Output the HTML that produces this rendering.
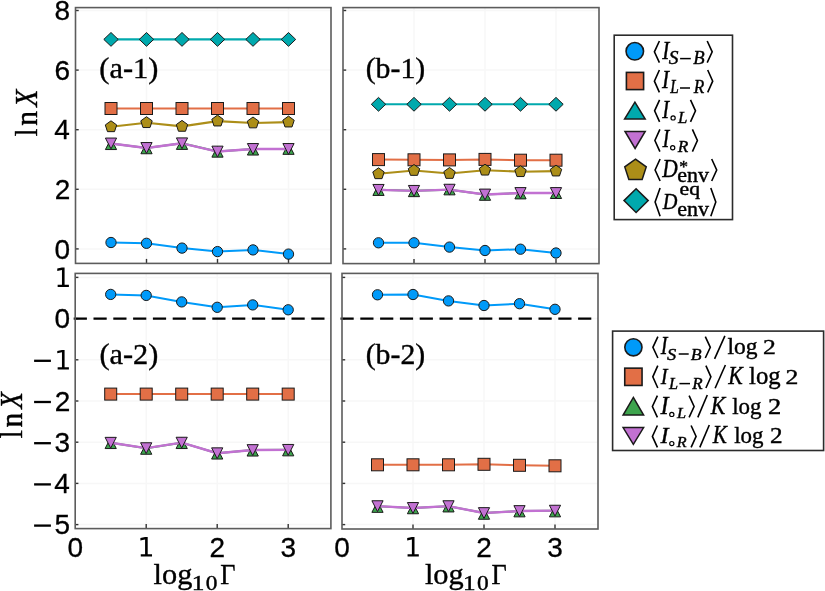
<!DOCTYPE html>
<html><head><meta charset="utf-8"><style>
html,body{margin:0;padding:0;background:#fff;width:825px;height:591px;overflow:hidden}
svg{display:block;will-change:transform}
text{font-kerning:none}
.s text{stroke:#000;stroke-width:0.4px}
.t text,.t path{stroke:#000;stroke-width:0.3px}
</style></head><body>
<svg width="825" height="591" viewBox="0 0 825 591">
<defs><clipPath id="clip_a1"><rect x="75.5" y="7.6" width="255.50" height="255.80"/></clipPath><clipPath id="clip_b1"><rect x="343.0" y="7.6" width="256.00" height="256.00"/></clipPath><clipPath id="clip_a2"><rect x="75.2" y="273.4" width="255.70" height="255.20"/></clipPath><clipPath id="clip_b2"><rect x="342.0" y="273.4" width="256.00" height="255.60"/></clipPath></defs>
<rect width="825" height="591" fill="#fff"/>
<line x1="146.50" y1="7.6" x2="146.50" y2="263.4" stroke="#f7f7f7" stroke-width="1.5"/>
<line x1="217.50" y1="7.6" x2="217.50" y2="263.4" stroke="#f7f7f7" stroke-width="1.5"/>
<line x1="288.50" y1="7.6" x2="288.50" y2="263.4" stroke="#f7f7f7" stroke-width="1.5"/>
<line x1="75.5" y1="248.90" x2="331.0" y2="248.90" stroke="#f7f7f7" stroke-width="1.5"/>
<line x1="75.5" y1="189.30" x2="331.0" y2="189.30" stroke="#f7f7f7" stroke-width="1.5"/>
<line x1="75.5" y1="129.70" x2="331.0" y2="129.70" stroke="#f7f7f7" stroke-width="1.5"/>
<line x1="75.5" y1="70.10" x2="331.0" y2="70.10" stroke="#f7f7f7" stroke-width="1.5"/>
<line x1="75.5" y1="10.50" x2="331.0" y2="10.50" stroke="#f7f7f7" stroke-width="1.5"/>
<line x1="146.50" y1="263.4" x2="146.50" y2="258.9" stroke="#333" stroke-width="1.4"/>
<line x1="217.50" y1="263.4" x2="217.50" y2="258.9" stroke="#333" stroke-width="1.4"/>
<line x1="288.50" y1="263.4" x2="288.50" y2="258.9" stroke="#333" stroke-width="1.4"/>
<line x1="75.5" y1="248.90" x2="78.7" y2="248.90" stroke="#333" stroke-width="1.4"/>
<line x1="75.5" y1="189.30" x2="78.7" y2="189.30" stroke="#333" stroke-width="1.4"/>
<line x1="75.5" y1="129.70" x2="78.7" y2="129.70" stroke="#333" stroke-width="1.4"/>
<line x1="75.5" y1="70.10" x2="78.7" y2="70.10" stroke="#333" stroke-width="1.4"/>
<line x1="75.5" y1="10.50" x2="78.7" y2="10.50" stroke="#333" stroke-width="1.4"/>
<line x1="414.00" y1="7.6" x2="414.00" y2="263.6" stroke="#f7f7f7" stroke-width="1.5"/>
<line x1="485.00" y1="7.6" x2="485.00" y2="263.6" stroke="#f7f7f7" stroke-width="1.5"/>
<line x1="556.00" y1="7.6" x2="556.00" y2="263.6" stroke="#f7f7f7" stroke-width="1.5"/>
<line x1="343.0" y1="248.90" x2="599.0" y2="248.90" stroke="#f7f7f7" stroke-width="1.5"/>
<line x1="343.0" y1="189.30" x2="599.0" y2="189.30" stroke="#f7f7f7" stroke-width="1.5"/>
<line x1="343.0" y1="129.70" x2="599.0" y2="129.70" stroke="#f7f7f7" stroke-width="1.5"/>
<line x1="343.0" y1="70.10" x2="599.0" y2="70.10" stroke="#f7f7f7" stroke-width="1.5"/>
<line x1="343.0" y1="10.50" x2="599.0" y2="10.50" stroke="#f7f7f7" stroke-width="1.5"/>
<line x1="414.00" y1="263.6" x2="414.00" y2="259.1" stroke="#333" stroke-width="1.4"/>
<line x1="485.00" y1="263.6" x2="485.00" y2="259.1" stroke="#333" stroke-width="1.4"/>
<line x1="556.00" y1="263.6" x2="556.00" y2="259.1" stroke="#333" stroke-width="1.4"/>
<line x1="343.0" y1="248.90" x2="346.2" y2="248.90" stroke="#333" stroke-width="1.4"/>
<line x1="343.0" y1="189.30" x2="346.2" y2="189.30" stroke="#333" stroke-width="1.4"/>
<line x1="343.0" y1="129.70" x2="346.2" y2="129.70" stroke="#333" stroke-width="1.4"/>
<line x1="343.0" y1="70.10" x2="346.2" y2="70.10" stroke="#333" stroke-width="1.4"/>
<line x1="343.0" y1="10.50" x2="346.2" y2="10.50" stroke="#333" stroke-width="1.4"/>
<line x1="146.20" y1="273.4" x2="146.20" y2="528.6" stroke="#f7f7f7" stroke-width="1.5"/>
<line x1="217.20" y1="273.4" x2="217.20" y2="528.6" stroke="#f7f7f7" stroke-width="1.5"/>
<line x1="288.20" y1="273.4" x2="288.20" y2="528.6" stroke="#f7f7f7" stroke-width="1.5"/>
<line x1="75.2" y1="277.40" x2="330.9" y2="277.40" stroke="#f7f7f7" stroke-width="1.5"/>
<line x1="75.2" y1="318.60" x2="330.9" y2="318.60" stroke="#f7f7f7" stroke-width="1.5"/>
<line x1="75.2" y1="359.80" x2="330.9" y2="359.80" stroke="#f7f7f7" stroke-width="1.5"/>
<line x1="75.2" y1="401.00" x2="330.9" y2="401.00" stroke="#f7f7f7" stroke-width="1.5"/>
<line x1="75.2" y1="442.20" x2="330.9" y2="442.20" stroke="#f7f7f7" stroke-width="1.5"/>
<line x1="75.2" y1="483.40" x2="330.9" y2="483.40" stroke="#f7f7f7" stroke-width="1.5"/>
<line x1="75.2" y1="524.60" x2="330.9" y2="524.60" stroke="#f7f7f7" stroke-width="1.5"/>
<line x1="146.20" y1="528.6" x2="146.20" y2="524.1" stroke="#333" stroke-width="1.4"/>
<line x1="217.20" y1="528.6" x2="217.20" y2="524.1" stroke="#333" stroke-width="1.4"/>
<line x1="288.20" y1="528.6" x2="288.20" y2="524.1" stroke="#333" stroke-width="1.4"/>
<line x1="75.2" y1="277.40" x2="78.4" y2="277.40" stroke="#333" stroke-width="1.4"/>
<line x1="75.2" y1="318.60" x2="78.4" y2="318.60" stroke="#333" stroke-width="1.4"/>
<line x1="75.2" y1="359.80" x2="78.4" y2="359.80" stroke="#333" stroke-width="1.4"/>
<line x1="75.2" y1="401.00" x2="78.4" y2="401.00" stroke="#333" stroke-width="1.4"/>
<line x1="75.2" y1="442.20" x2="78.4" y2="442.20" stroke="#333" stroke-width="1.4"/>
<line x1="75.2" y1="483.40" x2="78.4" y2="483.40" stroke="#333" stroke-width="1.4"/>
<line x1="75.2" y1="524.60" x2="78.4" y2="524.60" stroke="#333" stroke-width="1.4"/>
<line x1="413.00" y1="273.4" x2="413.00" y2="529.0" stroke="#f7f7f7" stroke-width="1.5"/>
<line x1="484.00" y1="273.4" x2="484.00" y2="529.0" stroke="#f7f7f7" stroke-width="1.5"/>
<line x1="555.00" y1="273.4" x2="555.00" y2="529.0" stroke="#f7f7f7" stroke-width="1.5"/>
<line x1="342.0" y1="277.40" x2="598.0" y2="277.40" stroke="#f7f7f7" stroke-width="1.5"/>
<line x1="342.0" y1="318.60" x2="598.0" y2="318.60" stroke="#f7f7f7" stroke-width="1.5"/>
<line x1="342.0" y1="359.80" x2="598.0" y2="359.80" stroke="#f7f7f7" stroke-width="1.5"/>
<line x1="342.0" y1="401.00" x2="598.0" y2="401.00" stroke="#f7f7f7" stroke-width="1.5"/>
<line x1="342.0" y1="442.20" x2="598.0" y2="442.20" stroke="#f7f7f7" stroke-width="1.5"/>
<line x1="342.0" y1="483.40" x2="598.0" y2="483.40" stroke="#f7f7f7" stroke-width="1.5"/>
<line x1="342.0" y1="524.60" x2="598.0" y2="524.60" stroke="#f7f7f7" stroke-width="1.5"/>
<line x1="413.00" y1="529.0" x2="413.00" y2="524.5" stroke="#333" stroke-width="1.4"/>
<line x1="484.00" y1="529.0" x2="484.00" y2="524.5" stroke="#333" stroke-width="1.4"/>
<line x1="555.00" y1="529.0" x2="555.00" y2="524.5" stroke="#333" stroke-width="1.4"/>
<line x1="342.0" y1="277.40" x2="345.2" y2="277.40" stroke="#333" stroke-width="1.4"/>
<line x1="342.0" y1="318.60" x2="345.2" y2="318.60" stroke="#333" stroke-width="1.4"/>
<line x1="342.0" y1="359.80" x2="345.2" y2="359.80" stroke="#333" stroke-width="1.4"/>
<line x1="342.0" y1="401.00" x2="345.2" y2="401.00" stroke="#333" stroke-width="1.4"/>
<line x1="342.0" y1="442.20" x2="345.2" y2="442.20" stroke="#333" stroke-width="1.4"/>
<line x1="342.0" y1="483.40" x2="345.2" y2="483.40" stroke="#333" stroke-width="1.4"/>
<line x1="342.0" y1="524.60" x2="345.2" y2="524.60" stroke="#333" stroke-width="1.4"/>
<line x1="73.7" y1="318.7" x2="330.9" y2="318.7" stroke="#000" stroke-width="2.2" stroke-dasharray="13.2 6.6"/>
<line x1="340.5" y1="318.7" x2="598.0" y2="318.7" stroke="#000" stroke-width="2.2" stroke-dasharray="13.2 6.6"/>
<g clip-path="url(#clip_a1)">
<polyline points="111.00,242.50 146.50,243.30 182.00,248.10 217.50,251.60 253.00,249.90 288.50,254.10" fill="none" stroke="#009AF9" stroke-width="2.0" stroke-linejoin="round"/>
<circle cx="111.00" cy="242.50" r="5.15" fill="#009AF9" stroke="#1a1a1a" stroke-width="1.0"/>
<circle cx="146.50" cy="243.30" r="5.15" fill="#009AF9" stroke="#1a1a1a" stroke-width="1.0"/>
<circle cx="182.00" cy="248.10" r="5.15" fill="#009AF9" stroke="#1a1a1a" stroke-width="1.0"/>
<circle cx="217.50" cy="251.60" r="5.15" fill="#009AF9" stroke="#1a1a1a" stroke-width="1.0"/>
<circle cx="253.00" cy="249.90" r="5.15" fill="#009AF9" stroke="#1a1a1a" stroke-width="1.0"/>
<circle cx="288.50" cy="254.10" r="5.15" fill="#009AF9" stroke="#1a1a1a" stroke-width="1.0"/>
<polyline points="111.00,108.50 146.50,108.50 182.00,108.50 217.50,108.50 253.00,108.50 288.50,108.50" fill="none" stroke="#E26F46" stroke-width="2.0" stroke-linejoin="round"/>
<rect x="105.00" y="102.50" width="12.00" height="12.00" fill="#E26F46" stroke="#1a1a1a" stroke-width="1.0"/>
<rect x="140.50" y="102.50" width="12.00" height="12.00" fill="#E26F46" stroke="#1a1a1a" stroke-width="1.0"/>
<rect x="176.00" y="102.50" width="12.00" height="12.00" fill="#E26F46" stroke="#1a1a1a" stroke-width="1.0"/>
<rect x="211.50" y="102.50" width="12.00" height="12.00" fill="#E26F46" stroke="#1a1a1a" stroke-width="1.0"/>
<rect x="247.00" y="102.50" width="12.00" height="12.00" fill="#E26F46" stroke="#1a1a1a" stroke-width="1.0"/>
<rect x="282.50" y="102.50" width="12.00" height="12.00" fill="#E26F46" stroke="#1a1a1a" stroke-width="1.0"/>
<polyline points="111.00,143.45 146.50,147.95 182.00,143.30 217.50,151.55 253.00,148.95 288.50,148.95" fill="none" stroke="#3DA44D" stroke-width="2.0" stroke-linejoin="round"/>
<polygon points="111.00,138.75 116.60,149.55 105.40,149.55" fill="#3DA44D" stroke="#1a1a1a" stroke-width="1.0"/>
<polygon points="146.50,142.95 152.10,153.75 140.90,153.75" fill="#3DA44D" stroke="#1a1a1a" stroke-width="1.0"/>
<polygon points="182.00,138.60 187.60,149.40 176.40,149.40" fill="#3DA44D" stroke="#1a1a1a" stroke-width="1.0"/>
<polygon points="217.50,146.35 223.10,157.15 211.90,157.15" fill="#3DA44D" stroke="#1a1a1a" stroke-width="1.0"/>
<polygon points="253.00,144.25 258.60,155.05 247.40,155.05" fill="#3DA44D" stroke="#1a1a1a" stroke-width="1.0"/>
<polygon points="288.50,143.55 294.10,154.35 282.90,154.35" fill="#3DA44D" stroke="#1a1a1a" stroke-width="1.0"/>
<polyline points="111.00,143.45 146.50,147.95 182.00,143.30 217.50,151.55 253.00,148.95 288.50,148.95" fill="none" stroke="#C271D2" stroke-width="2.4" stroke-linejoin="round"/>
<polygon points="105.40,138.05 116.60,138.05 111.00,148.85" fill="#C271D2" stroke="#1a1a1a" stroke-width="1.0"/>
<polygon points="140.90,142.55 152.10,142.55 146.50,153.35" fill="#C271D2" stroke="#1a1a1a" stroke-width="1.0"/>
<polygon points="176.40,137.90 187.60,137.90 182.00,148.70" fill="#C271D2" stroke="#1a1a1a" stroke-width="1.0"/>
<polygon points="211.90,146.15 223.10,146.15 217.50,156.95" fill="#C271D2" stroke="#1a1a1a" stroke-width="1.0"/>
<polygon points="247.40,143.55 258.60,143.55 253.00,154.35" fill="#C271D2" stroke="#1a1a1a" stroke-width="1.0"/>
<polygon points="282.90,143.55 294.10,143.55 288.50,154.35" fill="#C271D2" stroke="#1a1a1a" stroke-width="1.0"/>
<polyline points="111.00,126.80 146.50,122.70 182.00,126.40 217.50,121.10 253.00,123.00 288.50,122.10" fill="none" stroke="#AC8E18" stroke-width="2.1" stroke-linejoin="round"/>
<polygon points="111.00,120.80 116.71,124.95 114.53,131.65 107.47,131.65 105.29,124.95" fill="#AC8E18" stroke="#1a1a1a" stroke-width="1.0"/>
<polygon points="146.50,116.70 152.21,120.85 150.03,127.55 142.97,127.55 140.79,120.85" fill="#AC8E18" stroke="#1a1a1a" stroke-width="1.0"/>
<polygon points="182.00,120.40 187.71,124.55 185.53,131.25 178.47,131.25 176.29,124.55" fill="#AC8E18" stroke="#1a1a1a" stroke-width="1.0"/>
<polygon points="217.50,115.10 223.21,119.25 221.03,125.95 213.97,125.95 211.79,119.25" fill="#AC8E18" stroke="#1a1a1a" stroke-width="1.0"/>
<polygon points="253.00,117.00 258.71,121.15 256.53,127.85 249.47,127.85 247.29,121.15" fill="#AC8E18" stroke="#1a1a1a" stroke-width="1.0"/>
<polygon points="288.50,116.10 294.21,120.25 292.03,126.95 284.97,126.95 282.79,120.25" fill="#AC8E18" stroke="#1a1a1a" stroke-width="1.0"/>
<polyline points="111.00,39.40 146.50,39.40 182.00,39.40 217.50,39.40 253.00,39.40 288.50,39.40" fill="none" stroke="#00A9AD" stroke-width="2.1" stroke-linejoin="round"/>
<polygon points="111.00,32.50 118.20,39.40 111.00,46.30 103.80,39.40" fill="#00A9AD" stroke="#1a1a1a" stroke-width="1.0"/>
<polygon points="146.50,32.50 153.70,39.40 146.50,46.30 139.30,39.40" fill="#00A9AD" stroke="#1a1a1a" stroke-width="1.0"/>
<polygon points="182.00,32.50 189.20,39.40 182.00,46.30 174.80,39.40" fill="#00A9AD" stroke="#1a1a1a" stroke-width="1.0"/>
<polygon points="217.50,32.50 224.70,39.40 217.50,46.30 210.30,39.40" fill="#00A9AD" stroke="#1a1a1a" stroke-width="1.0"/>
<polygon points="253.00,32.50 260.20,39.40 253.00,46.30 245.80,39.40" fill="#00A9AD" stroke="#1a1a1a" stroke-width="1.0"/>
<polygon points="288.50,32.50 295.70,39.40 288.50,46.30 281.30,39.40" fill="#00A9AD" stroke="#1a1a1a" stroke-width="1.0"/>
</g>
<g clip-path="url(#clip_b1)">
<polyline points="378.50,242.80 414.00,242.80 449.50,247.10 485.00,250.50 520.50,249.20 556.00,253.00" fill="none" stroke="#009AF9" stroke-width="2.0" stroke-linejoin="round"/>
<circle cx="378.50" cy="242.80" r="5.15" fill="#009AF9" stroke="#1a1a1a" stroke-width="1.0"/>
<circle cx="414.00" cy="242.80" r="5.15" fill="#009AF9" stroke="#1a1a1a" stroke-width="1.0"/>
<circle cx="449.50" cy="247.10" r="5.15" fill="#009AF9" stroke="#1a1a1a" stroke-width="1.0"/>
<circle cx="485.00" cy="250.50" r="5.15" fill="#009AF9" stroke="#1a1a1a" stroke-width="1.0"/>
<circle cx="520.50" cy="249.20" r="5.15" fill="#009AF9" stroke="#1a1a1a" stroke-width="1.0"/>
<circle cx="556.00" cy="253.00" r="5.15" fill="#009AF9" stroke="#1a1a1a" stroke-width="1.0"/>
<polyline points="378.50,159.60 414.00,159.80 449.50,159.90 485.00,159.40 520.50,160.20 556.00,160.20" fill="none" stroke="#E26F46" stroke-width="2.0" stroke-linejoin="round"/>
<rect x="372.50" y="153.60" width="12.00" height="12.00" fill="#E26F46" stroke="#1a1a1a" stroke-width="1.0"/>
<rect x="408.00" y="153.80" width="12.00" height="12.00" fill="#E26F46" stroke="#1a1a1a" stroke-width="1.0"/>
<rect x="443.50" y="153.90" width="12.00" height="12.00" fill="#E26F46" stroke="#1a1a1a" stroke-width="1.0"/>
<rect x="479.00" y="153.40" width="12.00" height="12.00" fill="#E26F46" stroke="#1a1a1a" stroke-width="1.0"/>
<rect x="514.50" y="154.20" width="12.00" height="12.00" fill="#E26F46" stroke="#1a1a1a" stroke-width="1.0"/>
<rect x="550.00" y="154.20" width="12.00" height="12.00" fill="#E26F46" stroke="#1a1a1a" stroke-width="1.0"/>
<polyline points="378.50,189.85 414.00,190.85 449.50,189.65 485.00,194.50 520.50,193.00 556.00,193.00" fill="none" stroke="#3DA44D" stroke-width="2.0" stroke-linejoin="round"/>
<polygon points="378.50,184.65 384.10,195.45 372.90,195.45" fill="#3DA44D" stroke="#1a1a1a" stroke-width="1.0"/>
<polygon points="414.00,185.85 419.60,196.65 408.40,196.65" fill="#3DA44D" stroke="#1a1a1a" stroke-width="1.0"/>
<polygon points="449.50,184.05 455.10,194.85 443.90,194.85" fill="#3DA44D" stroke="#1a1a1a" stroke-width="1.0"/>
<polygon points="485.00,189.50 490.60,200.30 479.40,200.30" fill="#3DA44D" stroke="#1a1a1a" stroke-width="1.0"/>
<polygon points="520.50,188.10 526.10,198.90 514.90,198.90" fill="#3DA44D" stroke="#1a1a1a" stroke-width="1.0"/>
<polygon points="556.00,187.70 561.60,198.50 550.40,198.50" fill="#3DA44D" stroke="#1a1a1a" stroke-width="1.0"/>
<polyline points="378.50,189.85 414.00,190.85 449.50,189.65 485.00,194.50 520.50,193.00 556.00,193.00" fill="none" stroke="#C271D2" stroke-width="2.4" stroke-linejoin="round"/>
<polygon points="372.90,184.45 384.10,184.45 378.50,195.25" fill="#C271D2" stroke="#1a1a1a" stroke-width="1.0"/>
<polygon points="408.40,185.45 419.60,185.45 414.00,196.25" fill="#C271D2" stroke="#1a1a1a" stroke-width="1.0"/>
<polygon points="443.90,184.25 455.10,184.25 449.50,195.05" fill="#C271D2" stroke="#1a1a1a" stroke-width="1.0"/>
<polygon points="479.40,189.10 490.60,189.10 485.00,199.90" fill="#C271D2" stroke="#1a1a1a" stroke-width="1.0"/>
<polygon points="514.90,187.60 526.10,187.60 520.50,198.40" fill="#C271D2" stroke="#1a1a1a" stroke-width="1.0"/>
<polygon points="550.40,187.60 561.60,187.60 556.00,198.40" fill="#C271D2" stroke="#1a1a1a" stroke-width="1.0"/>
<polyline points="378.50,173.80 414.00,170.50 449.50,173.50 485.00,170.20 520.50,171.70 556.00,171.10" fill="none" stroke="#AC8E18" stroke-width="2.1" stroke-linejoin="round"/>
<polygon points="378.50,167.80 384.21,171.95 382.03,178.65 374.97,178.65 372.79,171.95" fill="#AC8E18" stroke="#1a1a1a" stroke-width="1.0"/>
<polygon points="414.00,164.50 419.71,168.65 417.53,175.35 410.47,175.35 408.29,168.65" fill="#AC8E18" stroke="#1a1a1a" stroke-width="1.0"/>
<polygon points="449.50,167.50 455.21,171.65 453.03,178.35 445.97,178.35 443.79,171.65" fill="#AC8E18" stroke="#1a1a1a" stroke-width="1.0"/>
<polygon points="485.00,164.20 490.71,168.35 488.53,175.05 481.47,175.05 479.29,168.35" fill="#AC8E18" stroke="#1a1a1a" stroke-width="1.0"/>
<polygon points="520.50,165.70 526.21,169.85 524.03,176.55 516.97,176.55 514.79,169.85" fill="#AC8E18" stroke="#1a1a1a" stroke-width="1.0"/>
<polygon points="556.00,165.10 561.71,169.25 559.53,175.95 552.47,175.95 550.29,169.25" fill="#AC8E18" stroke="#1a1a1a" stroke-width="1.0"/>
<polyline points="378.50,104.30 414.00,104.30 449.50,104.30 485.00,104.30 520.50,104.30 556.00,104.30" fill="none" stroke="#00A9AD" stroke-width="2.1" stroke-linejoin="round"/>
<polygon points="378.50,97.40 385.70,104.30 378.50,111.20 371.30,104.30" fill="#00A9AD" stroke="#1a1a1a" stroke-width="1.0"/>
<polygon points="414.00,97.40 421.20,104.30 414.00,111.20 406.80,104.30" fill="#00A9AD" stroke="#1a1a1a" stroke-width="1.0"/>
<polygon points="449.50,97.40 456.70,104.30 449.50,111.20 442.30,104.30" fill="#00A9AD" stroke="#1a1a1a" stroke-width="1.0"/>
<polygon points="485.00,97.40 492.20,104.30 485.00,111.20 477.80,104.30" fill="#00A9AD" stroke="#1a1a1a" stroke-width="1.0"/>
<polygon points="520.50,97.40 527.70,104.30 520.50,111.20 513.30,104.30" fill="#00A9AD" stroke="#1a1a1a" stroke-width="1.0"/>
<polygon points="556.00,97.40 563.20,104.30 556.00,111.20 548.80,104.30" fill="#00A9AD" stroke="#1a1a1a" stroke-width="1.0"/>
</g>
<g clip-path="url(#clip_a2)">
<polyline points="110.70,294.40 146.20,295.40 181.70,301.90 217.20,307.30 252.70,304.90 288.20,309.80" fill="none" stroke="#009AF9" stroke-width="2.0" stroke-linejoin="round"/>
<circle cx="110.70" cy="294.40" r="5.15" fill="#009AF9" stroke="#1a1a1a" stroke-width="1.0"/>
<circle cx="146.20" cy="295.40" r="5.15" fill="#009AF9" stroke="#1a1a1a" stroke-width="1.0"/>
<circle cx="181.70" cy="301.90" r="5.15" fill="#009AF9" stroke="#1a1a1a" stroke-width="1.0"/>
<circle cx="217.20" cy="307.30" r="5.15" fill="#009AF9" stroke="#1a1a1a" stroke-width="1.0"/>
<circle cx="252.70" cy="304.90" r="5.15" fill="#009AF9" stroke="#1a1a1a" stroke-width="1.0"/>
<circle cx="288.20" cy="309.80" r="5.15" fill="#009AF9" stroke="#1a1a1a" stroke-width="1.0"/>
<polyline points="110.70,394.10 146.20,394.10 181.70,394.10 217.20,394.10 252.70,394.10 288.20,394.10" fill="none" stroke="#E26F46" stroke-width="2.0" stroke-linejoin="round"/>
<rect x="104.70" y="388.10" width="12.00" height="12.00" fill="#E26F46" stroke="#1a1a1a" stroke-width="1.0"/>
<rect x="140.20" y="388.10" width="12.00" height="12.00" fill="#E26F46" stroke="#1a1a1a" stroke-width="1.0"/>
<rect x="175.70" y="388.10" width="12.00" height="12.00" fill="#E26F46" stroke="#1a1a1a" stroke-width="1.0"/>
<rect x="211.20" y="388.10" width="12.00" height="12.00" fill="#E26F46" stroke="#1a1a1a" stroke-width="1.0"/>
<rect x="246.70" y="388.10" width="12.00" height="12.00" fill="#E26F46" stroke="#1a1a1a" stroke-width="1.0"/>
<rect x="282.20" y="388.10" width="12.00" height="12.00" fill="#E26F46" stroke="#1a1a1a" stroke-width="1.0"/>
<polyline points="110.70,442.75 146.20,448.15 181.70,442.65 217.20,453.25 252.70,450.05 288.20,449.85" fill="none" stroke="#3DA44D" stroke-width="2.0" stroke-linejoin="round"/>
<polygon points="110.70,437.75 116.30,448.55 105.10,448.55" fill="#3DA44D" stroke="#1a1a1a" stroke-width="1.0"/>
<polygon points="146.20,443.45 151.80,454.25 140.60,454.25" fill="#3DA44D" stroke="#1a1a1a" stroke-width="1.0"/>
<polygon points="181.70,437.75 187.30,448.55 176.10,448.55" fill="#3DA44D" stroke="#1a1a1a" stroke-width="1.0"/>
<polygon points="217.20,448.25 222.80,459.05 211.60,459.05" fill="#3DA44D" stroke="#1a1a1a" stroke-width="1.0"/>
<polygon points="252.70,445.25 258.30,456.05 247.10,456.05" fill="#3DA44D" stroke="#1a1a1a" stroke-width="1.0"/>
<polygon points="288.20,445.05 293.80,455.85 282.60,455.85" fill="#3DA44D" stroke="#1a1a1a" stroke-width="1.0"/>
<polyline points="110.70,442.75 146.20,448.15 181.70,442.65 217.20,453.25 252.70,450.05 288.20,449.85" fill="none" stroke="#C271D2" stroke-width="2.4" stroke-linejoin="round"/>
<polygon points="105.10,437.35 116.30,437.35 110.70,448.15" fill="#C271D2" stroke="#1a1a1a" stroke-width="1.0"/>
<polygon points="140.60,442.75 151.80,442.75 146.20,453.55" fill="#C271D2" stroke="#1a1a1a" stroke-width="1.0"/>
<polygon points="176.10,437.25 187.30,437.25 181.70,448.05" fill="#C271D2" stroke="#1a1a1a" stroke-width="1.0"/>
<polygon points="211.60,447.85 222.80,447.85 217.20,458.65" fill="#C271D2" stroke="#1a1a1a" stroke-width="1.0"/>
<polygon points="247.10,444.65 258.30,444.65 252.70,455.45" fill="#C271D2" stroke="#1a1a1a" stroke-width="1.0"/>
<polygon points="282.60,444.45 293.80,444.45 288.20,455.25" fill="#C271D2" stroke="#1a1a1a" stroke-width="1.0"/>
</g>
<g clip-path="url(#clip_b2)">
<polyline points="377.50,294.80 413.00,294.50 448.50,300.90 484.00,305.50 519.50,303.70 555.00,309.30" fill="none" stroke="#009AF9" stroke-width="2.0" stroke-linejoin="round"/>
<circle cx="377.50" cy="294.80" r="5.15" fill="#009AF9" stroke="#1a1a1a" stroke-width="1.0"/>
<circle cx="413.00" cy="294.50" r="5.15" fill="#009AF9" stroke="#1a1a1a" stroke-width="1.0"/>
<circle cx="448.50" cy="300.90" r="5.15" fill="#009AF9" stroke="#1a1a1a" stroke-width="1.0"/>
<circle cx="484.00" cy="305.50" r="5.15" fill="#009AF9" stroke="#1a1a1a" stroke-width="1.0"/>
<circle cx="519.50" cy="303.70" r="5.15" fill="#009AF9" stroke="#1a1a1a" stroke-width="1.0"/>
<circle cx="555.00" cy="309.30" r="5.15" fill="#009AF9" stroke="#1a1a1a" stroke-width="1.0"/>
<polyline points="377.50,464.80 413.00,464.80 448.50,464.80 484.00,464.30 519.50,465.30 555.00,465.80" fill="none" stroke="#E26F46" stroke-width="2.0" stroke-linejoin="round"/>
<rect x="371.50" y="458.80" width="12.00" height="12.00" fill="#E26F46" stroke="#1a1a1a" stroke-width="1.0"/>
<rect x="407.00" y="458.80" width="12.00" height="12.00" fill="#E26F46" stroke="#1a1a1a" stroke-width="1.0"/>
<rect x="442.50" y="458.80" width="12.00" height="12.00" fill="#E26F46" stroke="#1a1a1a" stroke-width="1.0"/>
<rect x="478.00" y="458.30" width="12.00" height="12.00" fill="#E26F46" stroke="#1a1a1a" stroke-width="1.0"/>
<rect x="513.50" y="459.30" width="12.00" height="12.00" fill="#E26F46" stroke="#1a1a1a" stroke-width="1.0"/>
<rect x="549.00" y="459.80" width="12.00" height="12.00" fill="#E26F46" stroke="#1a1a1a" stroke-width="1.0"/>
<polyline points="377.50,506.15 413.00,507.95 448.50,506.15 484.00,513.05 519.50,511.05 555.00,510.65" fill="none" stroke="#3DA44D" stroke-width="2.0" stroke-linejoin="round"/>
<polygon points="377.50,501.55 383.10,512.35 371.90,512.35" fill="#3DA44D" stroke="#1a1a1a" stroke-width="1.0"/>
<polygon points="413.00,502.95 418.60,513.75 407.40,513.75" fill="#3DA44D" stroke="#1a1a1a" stroke-width="1.0"/>
<polygon points="448.50,501.15 454.10,511.95 442.90,511.95" fill="#3DA44D" stroke="#1a1a1a" stroke-width="1.0"/>
<polygon points="484.00,508.45 489.60,519.25 478.40,519.25" fill="#3DA44D" stroke="#1a1a1a" stroke-width="1.0"/>
<polygon points="519.50,506.05 525.10,516.85 513.90,516.85" fill="#3DA44D" stroke="#1a1a1a" stroke-width="1.0"/>
<polygon points="555.00,506.05 560.60,516.85 549.40,516.85" fill="#3DA44D" stroke="#1a1a1a" stroke-width="1.0"/>
<polyline points="377.50,506.15 413.00,507.95 448.50,506.15 484.00,513.05 519.50,511.05 555.00,510.65" fill="none" stroke="#C271D2" stroke-width="2.4" stroke-linejoin="round"/>
<polygon points="371.90,500.75 383.10,500.75 377.50,511.55" fill="#C271D2" stroke="#1a1a1a" stroke-width="1.0"/>
<polygon points="407.40,502.55 418.60,502.55 413.00,513.35" fill="#C271D2" stroke="#1a1a1a" stroke-width="1.0"/>
<polygon points="442.90,500.75 454.10,500.75 448.50,511.55" fill="#C271D2" stroke="#1a1a1a" stroke-width="1.0"/>
<polygon points="478.40,507.65 489.60,507.65 484.00,518.45" fill="#C271D2" stroke="#1a1a1a" stroke-width="1.0"/>
<polygon points="513.90,505.65 525.10,505.65 519.50,516.45" fill="#C271D2" stroke="#1a1a1a" stroke-width="1.0"/>
<polygon points="549.40,505.25 560.60,505.25 555.00,516.05" fill="#C271D2" stroke="#1a1a1a" stroke-width="1.0"/>
</g>
<rect x="75.5" y="7.6" width="255.50" height="255.80" fill="none" stroke="#5c5c5c" stroke-width="1.6"/>
<rect x="343.0" y="7.6" width="256.00" height="256.00" fill="none" stroke="#5c5c5c" stroke-width="1.6"/>
<rect x="75.2" y="273.4" width="255.70" height="255.20" fill="none" stroke="#5c5c5c" stroke-width="1.6"/>
<rect x="342.0" y="273.4" width="256.00" height="255.60" fill="none" stroke="#5c5c5c" stroke-width="1.6"/>
<g class="t">
<text transform="translate(54.42,258.60)" font-family='"Liberation Sans", sans-serif' font-style="normal" font-size="28.00" fill="#000">0</text>
<text transform="translate(54.74,199.00)" font-family='"Liberation Sans", sans-serif' font-style="normal" font-size="28.00" fill="#000">2</text>
<text transform="translate(54.15,139.40)" font-family='"Liberation Sans", sans-serif' font-style="normal" font-size="28.00" fill="#000">4</text>
<text transform="translate(54.56,79.80)" font-family='"Liberation Sans", sans-serif' font-style="normal" font-size="28.00" fill="#000">6</text>
<text transform="translate(54.54,20.20)" font-family='"Liberation Sans", sans-serif' font-style="normal" font-size="28.00" fill="#000">8</text>
<path transform="translate(54.32,287.10) scale(0.01309,-0.01309)" d="M254 170L584 170L584 1309L225 1237L225 1421L582 1493L784 1493L784 170L1114 170L1114 0L254 0Z" fill="#000"/>
<text transform="translate(54.42,328.30)" font-family='"Liberation Sans", sans-serif' font-style="normal" font-size="28.00" fill="#000">0</text>
<path transform="translate(54.32,369.50) scale(0.01309,-0.01309)" d="M254 170L584 170L584 1309L225 1237L225 1421L582 1493L784 1493L784 170L1114 170L1114 0L254 0Z" fill="#000"/>
<rect x="34.1" y="359.65" width="16.8" height="2.3" fill="#000"/>
<text transform="translate(54.74,410.70)" font-family='"Liberation Sans", sans-serif' font-style="normal" font-size="28.00" fill="#000">2</text>
<rect x="34.1" y="400.85" width="16.8" height="2.3" fill="#000"/>
<text transform="translate(54.56,451.90)" font-family='"Liberation Sans", sans-serif' font-style="normal" font-size="28.00" fill="#000">3</text>
<rect x="34.1" y="442.05" width="16.8" height="2.3" fill="#000"/>
<text transform="translate(54.15,493.10)" font-family='"Liberation Sans", sans-serif' font-style="normal" font-size="28.00" fill="#000">4</text>
<rect x="34.1" y="483.25" width="16.8" height="2.3" fill="#000"/>
<text transform="translate(54.50,534.30)" font-family='"Liberation Sans", sans-serif' font-style="normal" font-size="28.00" fill="#000">5</text>
<rect x="34.1" y="524.45" width="16.8" height="2.3" fill="#000"/>
<text transform="translate(67.41,556.60)" font-family='"Liberation Sans", sans-serif' font-style="normal" font-size="28.00" fill="#000">0</text>
<path transform="translate(137.44,556.60) scale(0.01309,-0.01309)" d="M254 170L584 170L584 1309L225 1237L225 1421L582 1493L784 1493L784 170L1114 170L1114 0L254 0Z" fill="#000"/>
<text transform="translate(209.41,556.60)" font-family='"Liberation Sans", sans-serif' font-style="normal" font-size="28.00" fill="#000">2</text>
<text transform="translate(280.50,556.60)" font-family='"Liberation Sans", sans-serif' font-style="normal" font-size="28.00" fill="#000">3</text>
<text transform="translate(334.21,556.60)" font-family='"Liberation Sans", sans-serif' font-style="normal" font-size="28.00" fill="#000">0</text>
<path transform="translate(404.24,556.60) scale(0.01309,-0.01309)" d="M254 170L584 170L584 1309L225 1237L225 1421L582 1493L784 1493L784 170L1114 170L1114 0L254 0Z" fill="#000"/>
<text transform="translate(476.21,556.60)" font-family='"Liberation Sans", sans-serif' font-style="normal" font-size="28.00" fill="#000">2</text>
<text transform="translate(547.30,556.60)" font-family='"Liberation Sans", sans-serif' font-style="normal" font-size="28.00" fill="#000">3</text>
</g>
<g class="s">
<g transform="translate(36.7,140) rotate(-90)"><text transform="translate(3.85,0.00) scale(0.8875,1)" font-family='"Liberation Serif", serif' font-style="normal" font-size="30.80" fill="#000">l</text><text transform="translate(14.32,0.00) scale(0.9559,1)" font-family='"Liberation Serif", serif' font-style="normal" font-size="30.80" fill="#000">n</text><text transform="translate(33.13,0.00) scale(0.9074,1)" font-family='"Liberation Serif", serif' font-style="italic" font-size="30.80" fill="#000">X</text></g>
<g transform="translate(22.0,445) rotate(-90)"><text transform="translate(6.40,0.00) scale(0.9694,1)" font-family='"Liberation Serif", serif' font-style="normal" font-size="30.80" fill="#000">l</text><text transform="translate(17.62,0.00) scale(0.9559,1)" font-family='"Liberation Serif", serif' font-style="normal" font-size="30.80" fill="#000">n</text><text transform="translate(36.30,0.00) scale(0.8834,1)" font-family='"Liberation Serif", serif' font-style="italic" font-size="30.80" fill="#000">X</text></g>
<text transform="translate(153.59,583.60) scale(1.0185,1)" font-family='"Liberation Serif", serif' font-style="normal" font-size="29.80" fill="#000">log</text>
<text transform="translate(191.78,589.60) scale(1.2272,1)" font-family='"Liberation Serif", serif' font-style="normal" font-size="20.60" fill="#000">1</text>
<text transform="translate(205.71,589.60) scale(1.1339,1)" font-family='"Liberation Serif", serif' font-style="normal" font-size="20.60" fill="#000">0</text>
<text transform="translate(220.14,583.60) scale(0.8885,1)" font-family='"Liberation Serif", serif' font-style="normal" font-size="29.60" fill="#000">Γ</text>
<text transform="translate(424.89,583.60) scale(1.0185,1)" font-family='"Liberation Serif", serif' font-style="normal" font-size="29.80" fill="#000">log</text>
<text transform="translate(463.08,589.60) scale(1.2272,1)" font-family='"Liberation Serif", serif' font-style="normal" font-size="20.60" fill="#000">1</text>
<text transform="translate(477.01,589.60) scale(1.1339,1)" font-family='"Liberation Serif", serif' font-style="normal" font-size="20.60" fill="#000">0</text>
<text transform="translate(491.44,583.60) scale(0.8885,1)" font-family='"Liberation Serif", serif' font-style="normal" font-size="29.60" fill="#000">Γ</text>
<text transform="translate(99.37,77.70) scale(1.0050,1)" font-family='"Liberation Serif", serif' font-style="normal" font-size="30.20" fill="#000">(a-1)</text>
<text transform="translate(365.69,78.10) scale(0.9859,1)" font-family='"Liberation Serif", serif' font-style="normal" font-size="30.20" fill="#000">(b-1)</text>
<text transform="translate(99.47,363.90) scale(1.0032,1)" font-family='"Liberation Serif", serif' font-style="normal" font-size="30.20" fill="#000">(a-2)</text>
<text transform="translate(365.69,363.70) scale(0.9859,1)" font-family='"Liberation Serif", serif' font-style="normal" font-size="30.20" fill="#000">(b-2)</text>
<rect x="614.2" y="35.2" width="118.3" height="184.4" fill="#fff" stroke="#2b2b2b" stroke-width="1.6"/>
<rect x="612.6" y="331.1" width="211" height="119.4" fill="#fff" stroke="#2b2b2b" stroke-width="1.6"/>
<circle cx="634.80" cy="51.30" r="8.75" fill="#009AF9" stroke="#1a1a1a" stroke-width="1.6"/>
<rect x="626.40" y="72.40" width="17.20" height="17.20" fill="#E26F46" stroke="#1a1a1a" stroke-width="1.6"/>
<polygon points="634.90,102.10 645.20,119.10 624.60,119.10" fill="#00A9AD" stroke="#1a1a1a" stroke-width="1.5"/>
<polygon points="625.00,131.50 645.20,131.50 635.10,148.50" fill="#C271D2" stroke="#1a1a1a" stroke-width="1.5"/>
<polygon points="635.50,159.10 646.25,166.91 642.14,179.54 628.86,179.54 624.75,166.91" fill="#AC8E18" stroke="#1a1a1a" stroke-width="1.5"/>
<polygon points="636.10,188.70 648.20,200.60 636.10,212.50 624.00,200.60" fill="#00A9AD" stroke="#1a1a1a" stroke-width="1.5"/>
<polyline points="659.40,41.00 654.40,51.80 659.40,62.60" fill="none" stroke="#000" stroke-width="1.6"/>
<polyline points="707.20,41.00 712.20,51.80 707.20,62.60" fill="none" stroke="#000" stroke-width="1.6"/>
<text transform="translate(662.28,58.60) scale(0.8444,1)" font-family='"Liberation Serif", serif' font-style="italic" font-size="25.20" fill="#000">I</text>
<text transform="translate(668.77,63.70) scale(1.0721,1)" font-family='"Liberation Serif", serif' font-style="italic" font-size="18.17" fill="#000">S</text>
<line x1="680.10" y1="58.60" x2="690.80" y2="58.60" stroke="#000" stroke-width="1.5"/>
<text transform="translate(693.33,63.70) scale(1.0253,1)" font-family='"Liberation Serif", serif' font-style="italic" font-size="18.17" fill="#000">B</text>
<polyline points="659.40,70.00 654.40,81.15 659.40,92.30" fill="none" stroke="#000" stroke-width="1.6"/>
<polyline points="707.70,70.00 712.70,81.15 707.70,92.30" fill="none" stroke="#000" stroke-width="1.6"/>
<text transform="translate(662.08,88.00) scale(0.8708,1)" font-family='"Liberation Serif", serif' font-style="italic" font-size="24.44" fill="#000">I</text>
<text transform="translate(670.18,93.30) scale(0.8529,1)" font-family='"Liberation Serif", serif' font-style="italic" font-size="18.02" fill="#000">L</text>
<line x1="680.00" y1="88.00" x2="690.00" y2="88.00" stroke="#000" stroke-width="1.5"/>
<text transform="translate(693.79,93.30) scale(0.9532,1)" font-family='"Liberation Serif", serif' font-style="italic" font-size="18.02" fill="#000">R</text>
<polyline points="659.60,99.90 654.60,110.85 659.60,121.80" fill="none" stroke="#000" stroke-width="1.6"/>
<polyline points="690.50,99.90 695.50,110.85 690.50,121.80" fill="none" stroke="#000" stroke-width="1.6"/>
<text transform="translate(662.28,117.90) scale(0.8233,1)" font-family='"Liberation Serif", serif' font-style="italic" font-size="25.20" fill="#000">I</text>
<circle cx="673.10" cy="117.90" r="2.1" fill="none" stroke="#000" stroke-width="1.2"/>
<text transform="translate(678.10,122.70) scale(0.9543,1)" font-family='"Liberation Serif", serif' font-style="italic" font-size="17.72" fill="#000">L</text>
<polyline points="659.90,129.30 654.90,140.50 659.90,151.70" fill="none" stroke="#000" stroke-width="1.6"/>
<polyline points="692.40,129.30 697.40,140.50 692.40,151.70" fill="none" stroke="#000" stroke-width="1.6"/>
<text transform="translate(662.38,147.30) scale(0.8227,1)" font-family='"Liberation Serif", serif' font-style="italic" font-size="24.89" fill="#000">I</text>
<circle cx="672.70" cy="147.80" r="2.1" fill="none" stroke="#000" stroke-width="1.2"/>
<text transform="translate(677.79,152.30) scale(0.9954,1)" font-family='"Liberation Serif", serif' font-style="italic" font-size="17.26" fill="#000">R</text>
<polyline points="660.10,159.00 655.10,170.00 660.10,181.00" fill="none" stroke="#000" stroke-width="1.6"/>
<polyline points="711.70,159.00 716.70,170.00 711.70,181.00" fill="none" stroke="#000" stroke-width="1.6"/>
<text transform="translate(662.34,177.10) scale(0.8666,1)" font-family='"Liberation Serif", serif' font-style="italic" font-size="24.74" fill="#000">D</text>
<text transform="translate(679.34,171.70) scale(1.0355,1)" font-family='"Liberation Serif", serif' font-style="normal" font-size="17.00" fill="#000">*</text>
<text transform="translate(677.24,182.00) scale(1.0998,1)" font-family='"Liberation Serif", serif' font-style="normal" font-size="20.00" fill="#000">env</text>
<polyline points="660.10,187.90 655.10,202.10 660.10,216.30" fill="none" stroke="#000" stroke-width="1.6"/>
<polyline points="710.80,187.90 715.80,202.10 710.80,216.30" fill="none" stroke="#000" stroke-width="1.6"/>
<text transform="translate(662.73,209.20) scale(0.8478,1)" font-family='"Liberation Serif", serif' font-style="italic" font-size="23.98" fill="#000">D</text>
<text transform="translate(679.55,195.00) scale(1.2029,1)" font-family='"Liberation Serif", serif' font-style="normal" font-size="18.00" fill="#000">eq</text>
<text transform="translate(677.24,215.60) scale(1.0998,1)" font-family='"Liberation Serif", serif' font-style="normal" font-size="20.00" fill="#000">env</text>
<circle cx="633.40" cy="347.30" r="8.60" fill="#009AF9" stroke="#1a1a1a" stroke-width="1.6"/>
<rect x="624.75" y="368.15" width="17.30" height="17.30" fill="#E26F46" stroke="#1a1a1a" stroke-width="1.6"/>
<polygon points="633.35,397.40 643.60,415.00 623.10,415.00" fill="#3DA44D" stroke="#1a1a1a" stroke-width="1.5"/>
<polygon points="623.10,427.60 643.60,427.60 633.35,444.40" fill="#C271D2" stroke="#1a1a1a" stroke-width="1.5"/>
<polyline points="657.90,336.70 652.90,347.35 657.90,358.00" fill="none" stroke="#000" stroke-width="1.6"/>
<polyline points="705.30,336.70 710.30,347.35 705.30,358.00" fill="none" stroke="#000" stroke-width="1.6"/>
<text transform="translate(660.78,354.30) scale(0.8272,1)" font-family='"Liberation Serif", serif' font-style="italic" font-size="24.44" fill="#000">I</text>
<text transform="translate(667.08,359.70) scale(1.0583,1)" font-family='"Liberation Serif", serif' font-style="italic" font-size="17.41" fill="#000">S</text>
<line x1="678.70" y1="354.00" x2="688.70" y2="354.00" stroke="#000" stroke-width="1.5"/>
<text transform="translate(690.84,359.70) scale(1.0390,1)" font-family='"Liberation Serif", serif' font-style="italic" font-size="17.10" fill="#000">B</text>
<line x1="724.90" y1="335.80" x2="714.60" y2="358.80" stroke="#000" stroke-width="1.6"/>
<text transform="translate(727.43,354.00) scale(1.0316,1)" font-family='"Liberation Serif", serif' font-style="normal" font-size="22.77" fill="#000">log</text>
<text transform="translate(763.07,354.00) scale(1.1732,1)" font-family='"Liberation Serif", serif' font-style="normal" font-size="21.90" fill="#000">2</text>
<polyline points="657.80,365.60 652.80,376.80 657.80,388.00" fill="none" stroke="#000" stroke-width="1.6"/>
<polyline points="705.90,365.60 710.90,376.80 705.90,388.00" fill="none" stroke="#000" stroke-width="1.6"/>
<text transform="translate(660.78,384.20) scale(0.8487,1)" font-family='"Liberation Serif", serif' font-style="italic" font-size="24.13" fill="#000">I</text>
<text transform="translate(668.99,389.00) scale(1.0184,1)" font-family='"Liberation Serif", serif' font-style="italic" font-size="16.04" fill="#000">L</text>
<line x1="679.40" y1="383.60" x2="690.00" y2="383.60" stroke="#000" stroke-width="1.5"/>
<text transform="translate(692.19,389.00) scale(1.0608,1)" font-family='"Liberation Serif", serif' font-style="italic" font-size="16.04" fill="#000">R</text>
<line x1="725.40" y1="365.00" x2="715.10" y2="388.30" stroke="#000" stroke-width="1.6"/>
<text transform="translate(728.35,384.30) scale(0.8739,1)" font-family='"Liberation Serif", serif' font-style="italic" font-size="24.89" fill="#000">K</text>
<text transform="translate(749.11,384.00) scale(0.9965,1)" font-family='"Liberation Serif", serif' font-style="normal" font-size="24.79" fill="#000">log</text>
<text transform="translate(785.57,384.00) scale(1.2065,1)" font-family='"Liberation Serif", serif' font-style="normal" font-size="21.30" fill="#000">2</text>
<polyline points="657.40,395.60 652.40,406.50 657.40,417.40" fill="none" stroke="#000" stroke-width="1.6"/>
<polyline points="689.10,395.60 694.10,406.50 689.10,417.40" fill="none" stroke="#000" stroke-width="1.6"/>
<text transform="translate(660.39,413.80) scale(0.9723,1)" font-family='"Liberation Serif", serif' font-style="italic" font-size="24.89" fill="#000">I</text>
<circle cx="671.80" cy="414.40" r="2.1" fill="none" stroke="#000" stroke-width="1.2"/>
<text transform="translate(676.89,418.00) scale(1.0483,1)" font-family='"Liberation Serif", serif' font-style="italic" font-size="15.58" fill="#000">L</text>
<line x1="707.30" y1="395.00" x2="697.80" y2="417.40" stroke="#000" stroke-width="1.6"/>
<text transform="translate(710.66,413.80) scale(0.8584,1)" font-family='"Liberation Serif", serif' font-style="italic" font-size="25.50" fill="#000">K</text>
<text transform="translate(732.14,413.80) scale(0.9819,1)" font-family='"Liberation Serif", serif' font-style="normal" font-size="23.35" fill="#000">log</text>
<text transform="translate(768.04,413.80) scale(1.1672,1)" font-family='"Liberation Serif", serif' font-style="normal" font-size="22.65" fill="#000">2</text>
<polyline points="657.40,425.50 652.40,436.45 657.40,447.40" fill="none" stroke="#000" stroke-width="1.6"/>
<polyline points="691.10,425.50 696.10,436.45 691.10,447.40" fill="none" stroke="#000" stroke-width="1.6"/>
<text transform="translate(660.39,443.30) scale(1.0030,1)" font-family='"Liberation Serif", serif' font-style="italic" font-size="24.13" fill="#000">I</text>
<circle cx="671.80" cy="443.60" r="2.1" fill="none" stroke="#000" stroke-width="1.2"/>
<text transform="translate(676.79,447.20) scale(1.0385,1)" font-family='"Liberation Serif", serif' font-style="italic" font-size="15.58" fill="#000">R</text>
<line x1="709.30" y1="425.00" x2="699.80" y2="447.40" stroke="#000" stroke-width="1.6"/>
<text transform="translate(712.65,443.30) scale(0.8569,1)" font-family='"Liberation Serif", serif' font-style="italic" font-size="24.74" fill="#000">K</text>
<text transform="translate(734.14,442.90) scale(0.9699,1)" font-family='"Liberation Serif", serif' font-style="normal" font-size="23.64" fill="#000">log</text>
<text transform="translate(770.09,442.90) scale(1.1121,1)" font-family='"Liberation Serif", serif' font-style="normal" font-size="22.65" fill="#000">2</text>
</g>
</svg>
</body></html>
